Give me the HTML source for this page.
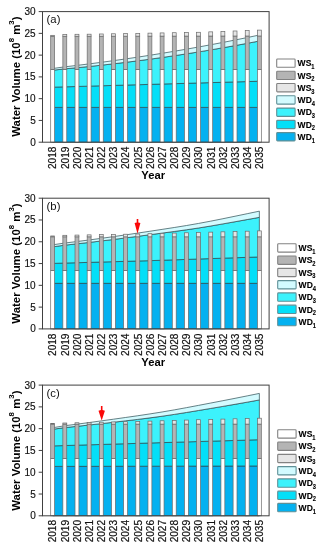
<!DOCTYPE html>
<html><head><meta charset="utf-8"><title>Water Volume</title>
<style>html,body{margin:0;padding:0;background:#fff}svg{display:block}</style></head>
<body>
<svg width="320" height="550" viewBox="0 0 320 550" font-family="'Liberation Sans', sans-serif">
<rect width="320" height="550" fill="#fff"/>
<polygon points="52.65,107.40 64.81,107.40 76.97,107.40 89.13,107.40 101.29,107.40 113.45,107.40 125.61,107.40 137.77,107.40 149.93,107.40 162.09,107.40 174.25,107.40 186.41,107.40 198.57,107.40 210.73,107.40 222.89,107.40 235.05,107.40 247.21,107.40 259.37,107.40 259.37,142.20 247.21,142.20 235.05,142.20 222.89,142.20 210.73,142.20 198.57,142.20 186.41,142.20 174.25,142.20 162.09,142.20 149.93,142.20 137.77,142.20 125.61,142.20 113.45,142.20 101.29,142.20 89.13,142.20 76.97,142.20 64.81,142.20 52.65,142.20" fill="#04b1f0" stroke="#2a4a50" stroke-width="0.7" stroke-linejoin="round"/>
<polygon points="52.65,87.18 64.81,86.83 76.97,86.48 89.13,86.13 101.29,85.77 113.45,85.42 125.61,85.07 137.77,84.72 149.93,84.37 162.09,84.02 174.25,83.67 186.41,83.32 198.57,82.97 210.73,82.62 222.89,82.27 235.05,81.92 247.21,81.57 259.37,81.22 259.37,107.40 247.21,107.40 235.05,107.40 222.89,107.40 210.73,107.40 198.57,107.40 186.41,107.40 174.25,107.40 162.09,107.40 149.93,107.40 137.77,107.40 125.61,107.40 113.45,107.40 101.29,107.40 89.13,107.40 76.97,107.40 64.81,107.40 52.65,107.40" fill="#04dff8" stroke="#2a4a50" stroke-width="0.7" stroke-linejoin="round"/>
<polygon points="52.65,70.25 64.81,68.84 76.97,67.71 89.13,66.49 101.29,65.19 113.45,63.81 125.61,62.35 137.77,60.81 149.93,59.19 162.09,57.49 174.25,55.71 186.41,53.85 198.57,51.91 210.73,49.89 222.89,47.78 235.05,45.60 247.21,43.33 259.37,40.99 259.37,81.22 247.21,81.57 235.05,81.92 222.89,82.27 210.73,82.62 198.57,82.97 186.41,83.32 174.25,83.67 162.09,84.02 149.93,84.37 137.77,84.72 125.61,85.07 113.45,85.42 101.29,85.77 89.13,86.13 76.97,86.48 64.81,86.83 52.65,87.18" fill="#3cf2fc" stroke="#2a4a50" stroke-width="0.7" stroke-linejoin="round"/>
<polygon points="52.65,68.54 64.81,66.84 76.97,65.40 89.13,63.90 101.29,62.32 113.45,60.66 125.61,58.93 137.77,57.13 149.93,55.25 162.09,53.30 174.25,51.27 186.41,49.17 198.57,47.00 210.73,44.75 222.89,42.43 235.05,40.03 247.21,37.56 259.37,35.01 259.37,40.99 247.21,43.33 235.05,45.60 222.89,47.78 210.73,49.89 198.57,51.91 186.41,53.85 174.25,55.71 162.09,57.49 149.93,59.19 137.77,60.81 125.61,62.35 113.45,63.81 101.29,65.19 89.13,66.49 76.97,67.71 64.81,68.84 52.65,70.25" fill="#d2fbff" stroke="#2a4a50" stroke-width="0.7" stroke-linejoin="round"/>
<rect x="50.70" y="69.52" width="3.9" height="72.68" fill="#ffffff" stroke="#6a6a6a" stroke-width="0.7"/>
<rect x="50.70" y="36.28" width="3.9" height="33.23" fill="#b4b4b4" stroke="#6a6a6a" stroke-width="0.7"/>
<rect x="50.70" y="35.33" width="3.9" height="0.96" fill="#e6e6e6" stroke="#6a6a6a" stroke-width="0.7"/>
<rect x="62.86" y="69.52" width="3.9" height="72.68" fill="#ffffff" stroke="#6a6a6a" stroke-width="0.7"/>
<rect x="62.86" y="36.26" width="3.9" height="33.25" fill="#b4b4b4" stroke="#6a6a6a" stroke-width="0.7"/>
<rect x="62.86" y="34.54" width="3.9" height="1.72" fill="#e6e6e6" stroke="#6a6a6a" stroke-width="0.7"/>
<rect x="75.02" y="69.52" width="3.9" height="72.68" fill="#ffffff" stroke="#6a6a6a" stroke-width="0.7"/>
<rect x="75.02" y="36.25" width="3.9" height="33.27" fill="#b4b4b4" stroke="#6a6a6a" stroke-width="0.7"/>
<rect x="75.02" y="34.28" width="3.9" height="1.97" fill="#e6e6e6" stroke="#6a6a6a" stroke-width="0.7"/>
<rect x="87.18" y="69.52" width="3.9" height="72.68" fill="#ffffff" stroke="#6a6a6a" stroke-width="0.7"/>
<rect x="87.18" y="36.23" width="3.9" height="33.29" fill="#b4b4b4" stroke="#6a6a6a" stroke-width="0.7"/>
<rect x="87.18" y="34.19" width="3.9" height="2.03" fill="#e6e6e6" stroke="#6a6a6a" stroke-width="0.7"/>
<rect x="99.34" y="69.52" width="3.9" height="72.68" fill="#ffffff" stroke="#6a6a6a" stroke-width="0.7"/>
<rect x="99.34" y="36.21" width="3.9" height="33.31" fill="#b4b4b4" stroke="#6a6a6a" stroke-width="0.7"/>
<rect x="99.34" y="33.98" width="3.9" height="2.23" fill="#e6e6e6" stroke="#6a6a6a" stroke-width="0.7"/>
<rect x="111.50" y="69.52" width="3.9" height="72.68" fill="#ffffff" stroke="#6a6a6a" stroke-width="0.7"/>
<rect x="111.50" y="36.19" width="3.9" height="33.32" fill="#b4b4b4" stroke="#6a6a6a" stroke-width="0.7"/>
<rect x="111.50" y="33.77" width="3.9" height="2.42" fill="#e6e6e6" stroke="#6a6a6a" stroke-width="0.7"/>
<rect x="123.66" y="69.52" width="3.9" height="72.68" fill="#ffffff" stroke="#6a6a6a" stroke-width="0.7"/>
<rect x="123.66" y="36.17" width="3.9" height="33.34" fill="#b4b4b4" stroke="#6a6a6a" stroke-width="0.7"/>
<rect x="123.66" y="33.56" width="3.9" height="2.62" fill="#e6e6e6" stroke="#6a6a6a" stroke-width="0.7"/>
<rect x="135.82" y="69.52" width="3.9" height="72.68" fill="#ffffff" stroke="#6a6a6a" stroke-width="0.7"/>
<rect x="135.82" y="36.16" width="3.9" height="33.36" fill="#b4b4b4" stroke="#6a6a6a" stroke-width="0.7"/>
<rect x="135.82" y="33.34" width="3.9" height="2.81" fill="#e6e6e6" stroke="#6a6a6a" stroke-width="0.7"/>
<rect x="147.98" y="69.52" width="3.9" height="72.68" fill="#ffffff" stroke="#6a6a6a" stroke-width="0.7"/>
<rect x="147.98" y="36.14" width="3.9" height="33.38" fill="#b4b4b4" stroke="#6a6a6a" stroke-width="0.7"/>
<rect x="147.98" y="33.13" width="3.9" height="3.01" fill="#e6e6e6" stroke="#6a6a6a" stroke-width="0.7"/>
<rect x="160.14" y="69.52" width="3.9" height="72.68" fill="#ffffff" stroke="#6a6a6a" stroke-width="0.7"/>
<rect x="160.14" y="36.12" width="3.9" height="33.40" fill="#b4b4b4" stroke="#6a6a6a" stroke-width="0.7"/>
<rect x="160.14" y="32.92" width="3.9" height="3.20" fill="#e6e6e6" stroke="#6a6a6a" stroke-width="0.7"/>
<rect x="172.30" y="69.52" width="3.9" height="72.68" fill="#ffffff" stroke="#6a6a6a" stroke-width="0.7"/>
<rect x="172.30" y="36.10" width="3.9" height="33.41" fill="#b4b4b4" stroke="#6a6a6a" stroke-width="0.7"/>
<rect x="172.30" y="32.71" width="3.9" height="3.40" fill="#e6e6e6" stroke="#6a6a6a" stroke-width="0.7"/>
<rect x="184.46" y="69.52" width="3.9" height="72.68" fill="#ffffff" stroke="#6a6a6a" stroke-width="0.7"/>
<rect x="184.46" y="36.08" width="3.9" height="33.43" fill="#b4b4b4" stroke="#6a6a6a" stroke-width="0.7"/>
<rect x="184.46" y="32.49" width="3.9" height="3.59" fill="#e6e6e6" stroke="#6a6a6a" stroke-width="0.7"/>
<rect x="196.62" y="69.52" width="3.9" height="72.68" fill="#ffffff" stroke="#6a6a6a" stroke-width="0.7"/>
<rect x="196.62" y="36.07" width="3.9" height="33.45" fill="#b4b4b4" stroke="#6a6a6a" stroke-width="0.7"/>
<rect x="196.62" y="32.28" width="3.9" height="3.79" fill="#e6e6e6" stroke="#6a6a6a" stroke-width="0.7"/>
<rect x="208.78" y="69.52" width="3.9" height="72.68" fill="#ffffff" stroke="#6a6a6a" stroke-width="0.7"/>
<rect x="208.78" y="36.05" width="3.9" height="33.47" fill="#b4b4b4" stroke="#6a6a6a" stroke-width="0.7"/>
<rect x="208.78" y="31.85" width="3.9" height="4.20" fill="#e6e6e6" stroke="#6a6a6a" stroke-width="0.7"/>
<rect x="220.94" y="69.52" width="3.9" height="72.68" fill="#ffffff" stroke="#6a6a6a" stroke-width="0.7"/>
<rect x="220.94" y="36.03" width="3.9" height="33.48" fill="#b4b4b4" stroke="#6a6a6a" stroke-width="0.7"/>
<rect x="220.94" y="31.41" width="3.9" height="4.62" fill="#e6e6e6" stroke="#6a6a6a" stroke-width="0.7"/>
<rect x="233.10" y="69.52" width="3.9" height="72.68" fill="#ffffff" stroke="#6a6a6a" stroke-width="0.7"/>
<rect x="233.10" y="36.01" width="3.9" height="33.50" fill="#b4b4b4" stroke="#6a6a6a" stroke-width="0.7"/>
<rect x="233.10" y="30.98" width="3.9" height="5.04" fill="#e6e6e6" stroke="#6a6a6a" stroke-width="0.7"/>
<rect x="245.26" y="69.52" width="3.9" height="72.68" fill="#ffffff" stroke="#6a6a6a" stroke-width="0.7"/>
<rect x="245.26" y="36.00" width="3.9" height="33.52" fill="#b4b4b4" stroke="#6a6a6a" stroke-width="0.7"/>
<rect x="245.26" y="30.54" width="3.9" height="5.46" fill="#e6e6e6" stroke="#6a6a6a" stroke-width="0.7"/>
<rect x="257.42" y="69.52" width="3.9" height="72.68" fill="#ffffff" stroke="#6a6a6a" stroke-width="0.7"/>
<rect x="257.42" y="35.98" width="3.9" height="33.54" fill="#b4b4b4" stroke="#6a6a6a" stroke-width="0.7"/>
<rect x="257.42" y="30.11" width="3.9" height="5.87" fill="#e6e6e6" stroke="#6a6a6a" stroke-width="0.7"/>
<rect x="42.5" y="11.6" width="226.60000000000002" height="130.60" fill="none" stroke="#404040" stroke-width="1"/>
<line x1="38.7" y1="142.20" x2="42.5" y2="142.20" stroke="#404040" stroke-width="1"/>
<text x="35.7" y="145.70" font-size="10" text-anchor="end" fill="#111" stroke="#111" stroke-width="0.15">0</text>
<line x1="38.7" y1="120.43" x2="42.5" y2="120.43" stroke="#404040" stroke-width="1"/>
<text x="35.7" y="123.93" font-size="10" text-anchor="end" fill="#111" stroke="#111" stroke-width="0.15">5</text>
<line x1="38.7" y1="98.67" x2="42.5" y2="98.67" stroke="#404040" stroke-width="1"/>
<text x="35.7" y="102.17" font-size="10" text-anchor="end" fill="#111" stroke="#111" stroke-width="0.15">10</text>
<line x1="38.7" y1="76.90" x2="42.5" y2="76.90" stroke="#404040" stroke-width="1"/>
<text x="35.7" y="80.40" font-size="10" text-anchor="end" fill="#111" stroke="#111" stroke-width="0.15">15</text>
<line x1="38.7" y1="55.13" x2="42.5" y2="55.13" stroke="#404040" stroke-width="1"/>
<text x="35.7" y="58.63" font-size="10" text-anchor="end" fill="#111" stroke="#111" stroke-width="0.15">20</text>
<line x1="38.7" y1="33.37" x2="42.5" y2="33.37" stroke="#404040" stroke-width="1"/>
<text x="35.7" y="36.87" font-size="10" text-anchor="end" fill="#111" stroke="#111" stroke-width="0.15">25</text>
<line x1="38.7" y1="11.60" x2="42.5" y2="11.60" stroke="#404040" stroke-width="1"/>
<text x="35.7" y="15.10" font-size="10" text-anchor="end" fill="#111" stroke="#111" stroke-width="0.15">30</text>
<text transform="translate(56.45,146.60) rotate(-90)" font-size="10.1" text-anchor="end" fill="#111" stroke="#111" stroke-width="0.2">2018</text>
<text transform="translate(68.61,146.60) rotate(-90)" font-size="10.1" text-anchor="end" fill="#111" stroke="#111" stroke-width="0.2">2019</text>
<text transform="translate(80.77,146.60) rotate(-90)" font-size="10.1" text-anchor="end" fill="#111" stroke="#111" stroke-width="0.2">2020</text>
<text transform="translate(92.93,146.60) rotate(-90)" font-size="10.1" text-anchor="end" fill="#111" stroke="#111" stroke-width="0.2">2021</text>
<text transform="translate(105.09,146.60) rotate(-90)" font-size="10.1" text-anchor="end" fill="#111" stroke="#111" stroke-width="0.2">2022</text>
<text transform="translate(117.25,146.60) rotate(-90)" font-size="10.1" text-anchor="end" fill="#111" stroke="#111" stroke-width="0.2">2023</text>
<text transform="translate(129.41,146.60) rotate(-90)" font-size="10.1" text-anchor="end" fill="#111" stroke="#111" stroke-width="0.2">2024</text>
<text transform="translate(141.57,146.60) rotate(-90)" font-size="10.1" text-anchor="end" fill="#111" stroke="#111" stroke-width="0.2">2025</text>
<text transform="translate(153.73,146.60) rotate(-90)" font-size="10.1" text-anchor="end" fill="#111" stroke="#111" stroke-width="0.2">2026</text>
<text transform="translate(165.89,146.60) rotate(-90)" font-size="10.1" text-anchor="end" fill="#111" stroke="#111" stroke-width="0.2">2027</text>
<text transform="translate(178.05,146.60) rotate(-90)" font-size="10.1" text-anchor="end" fill="#111" stroke="#111" stroke-width="0.2">2028</text>
<text transform="translate(190.21,146.60) rotate(-90)" font-size="10.1" text-anchor="end" fill="#111" stroke="#111" stroke-width="0.2">2029</text>
<text transform="translate(202.37,146.60) rotate(-90)" font-size="10.1" text-anchor="end" fill="#111" stroke="#111" stroke-width="0.2">2030</text>
<text transform="translate(214.53,146.60) rotate(-90)" font-size="10.1" text-anchor="end" fill="#111" stroke="#111" stroke-width="0.2">2031</text>
<text transform="translate(226.69,146.60) rotate(-90)" font-size="10.1" text-anchor="end" fill="#111" stroke="#111" stroke-width="0.2">2032</text>
<text transform="translate(238.85,146.60) rotate(-90)" font-size="10.1" text-anchor="end" fill="#111" stroke="#111" stroke-width="0.2">2033</text>
<text transform="translate(251.01,146.60) rotate(-90)" font-size="10.1" text-anchor="end" fill="#111" stroke="#111" stroke-width="0.2">2034</text>
<text transform="translate(263.17,146.60) rotate(-90)" font-size="10.1" text-anchor="end" fill="#111" stroke="#111" stroke-width="0.2">2035</text>
<text transform="translate(153.2,178.60) scale(0.97,1)" font-size="11.6" font-weight="bold" text-anchor="middle" fill="#000">Year</text>
<text transform="translate(19.8,76.60) rotate(-90) scale(0.983,1)" font-size="11.6" font-weight="bold" text-anchor="middle" fill="#000">Water Volume (10<tspan font-size="8" dy="-5.7">8</tspan><tspan dy="5.7"> m</tspan><tspan font-size="8" dy="-5.7">3</tspan><tspan dy="5.7">)</tspan></text>
<text x="46.6" y="23.10" font-size="11.3" fill="#111">(a)</text>
<rect x="276.70" y="59.00" width="18.4" height="8.3" rx="0.8" fill="#ffffff" stroke="#828282" stroke-width="1.1"/>
<text transform="translate(297.60,66.40) scale(0.87,1)" font-size="9.8" font-weight="bold" fill="#000" stroke="#000" stroke-width="0.12">WS<tspan font-size="6.6" dy="2.7">1</tspan></text>
<rect x="276.70" y="71.27" width="18.4" height="8.3" rx="0.8" fill="#b4b4b4" stroke="#828282" stroke-width="1.1"/>
<text transform="translate(297.60,78.67) scale(0.87,1)" font-size="9.8" font-weight="bold" fill="#000" stroke="#000" stroke-width="0.12">WS<tspan font-size="6.6" dy="2.7">2</tspan></text>
<rect x="276.70" y="83.54" width="18.4" height="8.3" rx="0.8" fill="#e6e6e6" stroke="#828282" stroke-width="1.1"/>
<text transform="translate(297.60,90.94) scale(0.87,1)" font-size="9.8" font-weight="bold" fill="#000" stroke="#000" stroke-width="0.12">WS<tspan font-size="6.6" dy="2.7">3</tspan></text>
<rect x="276.70" y="95.81" width="18.4" height="8.3" rx="0.8" fill="#d2fbff" stroke="#5f9097" stroke-width="1.1"/>
<text transform="translate(297.60,103.21) scale(0.87,1)" font-size="9.8" font-weight="bold" fill="#000" stroke="#000" stroke-width="0.12">WD<tspan font-size="6.6" dy="2.7">4</tspan></text>
<rect x="276.70" y="108.08" width="18.4" height="8.3" rx="0.8" fill="#3cf2fc" stroke="#5f9097" stroke-width="1.1"/>
<text transform="translate(297.60,115.48) scale(0.87,1)" font-size="9.8" font-weight="bold" fill="#000" stroke="#000" stroke-width="0.12">WD<tspan font-size="6.6" dy="2.7">3</tspan></text>
<rect x="276.70" y="120.35" width="18.4" height="8.3" rx="0.8" fill="#04dff8" stroke="#5f9097" stroke-width="1.1"/>
<text transform="translate(297.60,127.75) scale(0.87,1)" font-size="9.8" font-weight="bold" fill="#000" stroke="#000" stroke-width="0.12">WD<tspan font-size="6.6" dy="2.7">2</tspan></text>
<rect x="276.70" y="132.62" width="18.4" height="8.3" rx="0.8" fill="#04b1f0" stroke="#5f9097" stroke-width="1.1"/>
<text transform="translate(297.60,140.02) scale(0.87,1)" font-size="9.8" font-weight="bold" fill="#000" stroke="#000" stroke-width="0.12">WD<tspan font-size="6.6" dy="2.7">1</tspan></text>
<polygon points="52.65,283.33 64.81,283.33 76.97,283.33 89.13,283.33 101.29,283.33 113.45,283.33 125.61,283.33 137.77,283.33 149.93,283.33 162.09,283.33 174.25,283.33 186.41,283.33 198.57,283.33 210.73,283.33 222.89,283.33 235.05,283.33 247.21,283.33 259.37,283.33 259.37,328.90 247.21,328.90 235.05,328.90 222.89,328.90 210.73,328.90 198.57,328.90 186.41,328.90 174.25,328.90 162.09,328.90 149.93,328.90 137.77,328.90 125.61,328.90 113.45,328.90 101.29,328.90 89.13,328.90 76.97,328.90 64.81,328.90 52.65,328.90" fill="#04b1f0" stroke="#2a4a50" stroke-width="0.7" stroke-linejoin="round"/>
<polygon points="52.65,263.40 64.81,263.06 76.97,262.71 89.13,262.37 101.29,262.02 113.45,261.68 125.61,261.33 137.77,260.99 149.93,260.65 162.09,260.23 174.25,259.82 186.41,259.41 198.57,259.00 210.73,258.58 222.89,258.17 235.05,257.76 247.21,257.34 259.37,256.93 259.37,283.33 247.21,283.33 235.05,283.33 222.89,283.33 210.73,283.33 198.57,283.33 186.41,283.33 174.25,283.33 162.09,283.33 149.93,283.33 137.77,283.33 125.61,283.33 113.45,283.33 101.29,283.33 89.13,283.33 76.97,283.33 64.81,283.33 52.65,283.33" fill="#04dff8" stroke="#2a4a50" stroke-width="0.7" stroke-linejoin="round"/>
<polygon points="52.65,246.82 64.81,245.17 76.97,243.82 89.13,242.42 101.29,240.96 113.45,239.46 125.61,237.91 137.77,236.32 149.93,234.71 162.09,233.10 174.25,231.48 186.41,229.79 198.57,227.98 210.73,226.00 222.89,223.89 235.05,221.72 247.21,219.54 259.37,217.36 259.37,256.93 247.21,257.34 235.05,257.76 222.89,258.17 210.73,258.58 198.57,259.00 186.41,259.41 174.25,259.82 162.09,260.23 149.93,260.65 137.77,260.99 125.61,261.33 113.45,261.68 101.29,262.02 89.13,262.37 76.97,262.71 64.81,263.06 52.65,263.40" fill="#3cf2fc" stroke="#2a4a50" stroke-width="0.7" stroke-linejoin="round"/>
<polygon points="52.65,244.82 64.81,243.04 76.97,241.54 89.13,239.97 101.29,238.34 113.45,236.64 125.61,234.89 137.77,233.08 149.93,231.24 162.09,229.38 174.25,227.50 186.41,225.54 198.57,223.43 210.73,221.15 222.89,218.72 235.05,216.22 247.21,213.70 259.37,211.15 259.37,217.36 247.21,219.54 235.05,221.72 222.89,223.89 210.73,226.00 198.57,227.98 186.41,229.79 174.25,231.48 162.09,233.10 149.93,234.71 137.77,236.32 125.61,237.91 113.45,239.46 101.29,240.96 89.13,242.42 76.97,243.82 64.81,245.17 52.65,246.82" fill="#d2fbff" stroke="#2a4a50" stroke-width="0.7" stroke-linejoin="round"/>
<rect x="50.70" y="270.48" width="3.9" height="58.42" fill="#ffffff" stroke="#6a6a6a" stroke-width="0.7"/>
<rect x="50.70" y="236.83" width="3.9" height="33.65" fill="#b4b4b4" stroke="#6a6a6a" stroke-width="0.7"/>
<rect x="50.70" y="235.96" width="3.9" height="0.87" fill="#e6e6e6" stroke="#6a6a6a" stroke-width="0.7"/>
<rect x="62.86" y="270.48" width="3.9" height="58.42" fill="#ffffff" stroke="#6a6a6a" stroke-width="0.7"/>
<rect x="62.86" y="236.83" width="3.9" height="33.65" fill="#b4b4b4" stroke="#6a6a6a" stroke-width="0.7"/>
<rect x="62.86" y="235.30" width="3.9" height="1.53" fill="#e6e6e6" stroke="#6a6a6a" stroke-width="0.7"/>
<rect x="75.02" y="270.49" width="3.9" height="58.41" fill="#ffffff" stroke="#6a6a6a" stroke-width="0.7"/>
<rect x="75.02" y="236.83" width="3.9" height="33.66" fill="#b4b4b4" stroke="#6a6a6a" stroke-width="0.7"/>
<rect x="75.02" y="235.08" width="3.9" height="1.75" fill="#e6e6e6" stroke="#6a6a6a" stroke-width="0.7"/>
<rect x="87.18" y="270.49" width="3.9" height="58.41" fill="#ffffff" stroke="#6a6a6a" stroke-width="0.7"/>
<rect x="87.18" y="236.83" width="3.9" height="33.66" fill="#b4b4b4" stroke="#6a6a6a" stroke-width="0.7"/>
<rect x="87.18" y="234.86" width="3.9" height="1.97" fill="#e6e6e6" stroke="#6a6a6a" stroke-width="0.7"/>
<rect x="99.34" y="270.50" width="3.9" height="58.40" fill="#ffffff" stroke="#6a6a6a" stroke-width="0.7"/>
<rect x="99.34" y="236.83" width="3.9" height="33.67" fill="#b4b4b4" stroke="#6a6a6a" stroke-width="0.7"/>
<rect x="99.34" y="234.64" width="3.9" height="2.19" fill="#e6e6e6" stroke="#6a6a6a" stroke-width="0.7"/>
<rect x="111.50" y="270.50" width="3.9" height="58.40" fill="#ffffff" stroke="#6a6a6a" stroke-width="0.7"/>
<rect x="111.50" y="236.83" width="3.9" height="33.67" fill="#b4b4b4" stroke="#6a6a6a" stroke-width="0.7"/>
<rect x="111.50" y="234.43" width="3.9" height="2.40" fill="#e6e6e6" stroke="#6a6a6a" stroke-width="0.7"/>
<rect x="123.66" y="270.51" width="3.9" height="58.39" fill="#ffffff" stroke="#6a6a6a" stroke-width="0.7"/>
<rect x="123.66" y="236.83" width="3.9" height="33.68" fill="#b4b4b4" stroke="#6a6a6a" stroke-width="0.7"/>
<rect x="123.66" y="234.21" width="3.9" height="2.62" fill="#e6e6e6" stroke="#6a6a6a" stroke-width="0.7"/>
<rect x="135.82" y="270.51" width="3.9" height="58.39" fill="#ffffff" stroke="#6a6a6a" stroke-width="0.7"/>
<rect x="135.82" y="236.83" width="3.9" height="33.68" fill="#b4b4b4" stroke="#6a6a6a" stroke-width="0.7"/>
<rect x="135.82" y="233.99" width="3.9" height="2.84" fill="#e6e6e6" stroke="#6a6a6a" stroke-width="0.7"/>
<rect x="147.98" y="270.52" width="3.9" height="58.38" fill="#ffffff" stroke="#6a6a6a" stroke-width="0.7"/>
<rect x="147.98" y="236.83" width="3.9" height="33.69" fill="#b4b4b4" stroke="#6a6a6a" stroke-width="0.7"/>
<rect x="147.98" y="233.68" width="3.9" height="3.15" fill="#e6e6e6" stroke="#6a6a6a" stroke-width="0.7"/>
<rect x="160.14" y="270.53" width="3.9" height="58.37" fill="#ffffff" stroke="#6a6a6a" stroke-width="0.7"/>
<rect x="160.14" y="236.83" width="3.9" height="33.70" fill="#b4b4b4" stroke="#6a6a6a" stroke-width="0.7"/>
<rect x="160.14" y="233.38" width="3.9" height="3.45" fill="#e6e6e6" stroke="#6a6a6a" stroke-width="0.7"/>
<rect x="172.30" y="270.53" width="3.9" height="58.37" fill="#ffffff" stroke="#6a6a6a" stroke-width="0.7"/>
<rect x="172.30" y="236.83" width="3.9" height="33.70" fill="#b4b4b4" stroke="#6a6a6a" stroke-width="0.7"/>
<rect x="172.30" y="233.07" width="3.9" height="3.76" fill="#e6e6e6" stroke="#6a6a6a" stroke-width="0.7"/>
<rect x="184.46" y="270.54" width="3.9" height="58.36" fill="#ffffff" stroke="#6a6a6a" stroke-width="0.7"/>
<rect x="184.46" y="236.83" width="3.9" height="33.71" fill="#b4b4b4" stroke="#6a6a6a" stroke-width="0.7"/>
<rect x="184.46" y="232.77" width="3.9" height="4.06" fill="#e6e6e6" stroke="#6a6a6a" stroke-width="0.7"/>
<rect x="196.62" y="270.54" width="3.9" height="58.36" fill="#ffffff" stroke="#6a6a6a" stroke-width="0.7"/>
<rect x="196.62" y="236.83" width="3.9" height="33.71" fill="#b4b4b4" stroke="#6a6a6a" stroke-width="0.7"/>
<rect x="196.62" y="232.46" width="3.9" height="4.37" fill="#e6e6e6" stroke="#6a6a6a" stroke-width="0.7"/>
<rect x="208.78" y="270.55" width="3.9" height="58.35" fill="#ffffff" stroke="#6a6a6a" stroke-width="0.7"/>
<rect x="208.78" y="236.83" width="3.9" height="33.72" fill="#b4b4b4" stroke="#6a6a6a" stroke-width="0.7"/>
<rect x="208.78" y="232.15" width="3.9" height="4.68" fill="#e6e6e6" stroke="#6a6a6a" stroke-width="0.7"/>
<rect x="220.94" y="270.55" width="3.9" height="58.35" fill="#ffffff" stroke="#6a6a6a" stroke-width="0.7"/>
<rect x="220.94" y="236.83" width="3.9" height="33.72" fill="#b4b4b4" stroke="#6a6a6a" stroke-width="0.7"/>
<rect x="220.94" y="231.83" width="3.9" height="5.00" fill="#e6e6e6" stroke="#6a6a6a" stroke-width="0.7"/>
<rect x="233.10" y="270.56" width="3.9" height="58.34" fill="#ffffff" stroke="#6a6a6a" stroke-width="0.7"/>
<rect x="233.10" y="236.83" width="3.9" height="33.73" fill="#b4b4b4" stroke="#6a6a6a" stroke-width="0.7"/>
<rect x="233.10" y="231.52" width="3.9" height="5.31" fill="#e6e6e6" stroke="#6a6a6a" stroke-width="0.7"/>
<rect x="245.26" y="270.56" width="3.9" height="58.34" fill="#ffffff" stroke="#6a6a6a" stroke-width="0.7"/>
<rect x="245.26" y="236.83" width="3.9" height="33.73" fill="#b4b4b4" stroke="#6a6a6a" stroke-width="0.7"/>
<rect x="245.26" y="231.20" width="3.9" height="5.63" fill="#e6e6e6" stroke="#6a6a6a" stroke-width="0.7"/>
<rect x="257.42" y="270.57" width="3.9" height="58.33" fill="#ffffff" stroke="#6a6a6a" stroke-width="0.7"/>
<rect x="257.42" y="236.83" width="3.9" height="33.74" fill="#b4b4b4" stroke="#6a6a6a" stroke-width="0.7"/>
<rect x="257.42" y="230.89" width="3.9" height="5.94" fill="#e6e6e6" stroke="#6a6a6a" stroke-width="0.7"/>
<rect x="42.5" y="198.2" width="226.60000000000002" height="130.70" fill="none" stroke="#404040" stroke-width="1"/>
<line x1="38.7" y1="328.90" x2="42.5" y2="328.90" stroke="#404040" stroke-width="1"/>
<text x="35.7" y="332.40" font-size="10" text-anchor="end" fill="#111" stroke="#111" stroke-width="0.15">0</text>
<line x1="38.7" y1="307.12" x2="42.5" y2="307.12" stroke="#404040" stroke-width="1"/>
<text x="35.7" y="310.62" font-size="10" text-anchor="end" fill="#111" stroke="#111" stroke-width="0.15">5</text>
<line x1="38.7" y1="285.33" x2="42.5" y2="285.33" stroke="#404040" stroke-width="1"/>
<text x="35.7" y="288.83" font-size="10" text-anchor="end" fill="#111" stroke="#111" stroke-width="0.15">10</text>
<line x1="38.7" y1="263.55" x2="42.5" y2="263.55" stroke="#404040" stroke-width="1"/>
<text x="35.7" y="267.05" font-size="10" text-anchor="end" fill="#111" stroke="#111" stroke-width="0.15">15</text>
<line x1="38.7" y1="241.77" x2="42.5" y2="241.77" stroke="#404040" stroke-width="1"/>
<text x="35.7" y="245.27" font-size="10" text-anchor="end" fill="#111" stroke="#111" stroke-width="0.15">20</text>
<line x1="38.7" y1="219.98" x2="42.5" y2="219.98" stroke="#404040" stroke-width="1"/>
<text x="35.7" y="223.48" font-size="10" text-anchor="end" fill="#111" stroke="#111" stroke-width="0.15">25</text>
<line x1="38.7" y1="198.20" x2="42.5" y2="198.20" stroke="#404040" stroke-width="1"/>
<text x="35.7" y="201.70" font-size="10" text-anchor="end" fill="#111" stroke="#111" stroke-width="0.15">30</text>
<text transform="translate(56.45,333.50) rotate(-90)" font-size="10.1" text-anchor="end" fill="#111" stroke="#111" stroke-width="0.2">2018</text>
<text transform="translate(68.61,333.50) rotate(-90)" font-size="10.1" text-anchor="end" fill="#111" stroke="#111" stroke-width="0.2">2019</text>
<text transform="translate(80.77,333.50) rotate(-90)" font-size="10.1" text-anchor="end" fill="#111" stroke="#111" stroke-width="0.2">2020</text>
<text transform="translate(92.93,333.50) rotate(-90)" font-size="10.1" text-anchor="end" fill="#111" stroke="#111" stroke-width="0.2">2021</text>
<text transform="translate(105.09,333.50) rotate(-90)" font-size="10.1" text-anchor="end" fill="#111" stroke="#111" stroke-width="0.2">2022</text>
<text transform="translate(117.25,333.50) rotate(-90)" font-size="10.1" text-anchor="end" fill="#111" stroke="#111" stroke-width="0.2">2023</text>
<text transform="translate(129.41,333.50) rotate(-90)" font-size="10.1" text-anchor="end" fill="#111" stroke="#111" stroke-width="0.2">2024</text>
<text transform="translate(141.57,333.50) rotate(-90)" font-size="10.1" text-anchor="end" fill="#111" stroke="#111" stroke-width="0.2">2025</text>
<text transform="translate(153.73,333.50) rotate(-90)" font-size="10.1" text-anchor="end" fill="#111" stroke="#111" stroke-width="0.2">2026</text>
<text transform="translate(165.89,333.50) rotate(-90)" font-size="10.1" text-anchor="end" fill="#111" stroke="#111" stroke-width="0.2">2027</text>
<text transform="translate(178.05,333.50) rotate(-90)" font-size="10.1" text-anchor="end" fill="#111" stroke="#111" stroke-width="0.2">2028</text>
<text transform="translate(190.21,333.50) rotate(-90)" font-size="10.1" text-anchor="end" fill="#111" stroke="#111" stroke-width="0.2">2029</text>
<text transform="translate(202.37,333.50) rotate(-90)" font-size="10.1" text-anchor="end" fill="#111" stroke="#111" stroke-width="0.2">2030</text>
<text transform="translate(214.53,333.50) rotate(-90)" font-size="10.1" text-anchor="end" fill="#111" stroke="#111" stroke-width="0.2">2031</text>
<text transform="translate(226.69,333.50) rotate(-90)" font-size="10.1" text-anchor="end" fill="#111" stroke="#111" stroke-width="0.2">2032</text>
<text transform="translate(238.85,333.50) rotate(-90)" font-size="10.1" text-anchor="end" fill="#111" stroke="#111" stroke-width="0.2">2033</text>
<text transform="translate(251.01,333.50) rotate(-90)" font-size="10.1" text-anchor="end" fill="#111" stroke="#111" stroke-width="0.2">2034</text>
<text transform="translate(263.17,333.50) rotate(-90)" font-size="10.1" text-anchor="end" fill="#111" stroke="#111" stroke-width="0.2">2035</text>
<text transform="translate(153.2,366.00) scale(0.97,1)" font-size="11.6" font-weight="bold" text-anchor="middle" fill="#000">Year</text>
<text transform="translate(19.8,263.55) rotate(-90) scale(0.983,1)" font-size="11.6" font-weight="bold" text-anchor="middle" fill="#000">Water Volume (10<tspan font-size="8" dy="-5.7">8</tspan><tspan dy="5.7"> m</tspan><tspan font-size="8" dy="-5.7">3</tspan><tspan dy="5.7">)</tspan></text>
<text x="46.6" y="209.70" font-size="11.3" fill="#111">(b)</text>
<path d="M136.70,218.90 H138.30 V222.50 L140.40,223.10 L137.50,233.80 L134.60,223.10 L136.70,222.50 Z" fill="#fb0808"/>
<rect x="277.70" y="243.80" width="18.4" height="8.3" rx="0.8" fill="#ffffff" stroke="#828282" stroke-width="1.1"/>
<text transform="translate(298.60,251.20) scale(0.87,1)" font-size="9.8" font-weight="bold" fill="#000" stroke="#000" stroke-width="0.12">WS<tspan font-size="6.6" dy="2.7">1</tspan></text>
<rect x="277.70" y="256.07" width="18.4" height="8.3" rx="0.8" fill="#b4b4b4" stroke="#828282" stroke-width="1.1"/>
<text transform="translate(298.60,263.47) scale(0.87,1)" font-size="9.8" font-weight="bold" fill="#000" stroke="#000" stroke-width="0.12">WS<tspan font-size="6.6" dy="2.7">2</tspan></text>
<rect x="277.70" y="268.34" width="18.4" height="8.3" rx="0.8" fill="#e6e6e6" stroke="#828282" stroke-width="1.1"/>
<text transform="translate(298.60,275.74) scale(0.87,1)" font-size="9.8" font-weight="bold" fill="#000" stroke="#000" stroke-width="0.12">WS<tspan font-size="6.6" dy="2.7">3</tspan></text>
<rect x="277.70" y="280.61" width="18.4" height="8.3" rx="0.8" fill="#d2fbff" stroke="#5f9097" stroke-width="1.1"/>
<text transform="translate(298.60,288.01) scale(0.87,1)" font-size="9.8" font-weight="bold" fill="#000" stroke="#000" stroke-width="0.12">WD<tspan font-size="6.6" dy="2.7">4</tspan></text>
<rect x="277.70" y="292.88" width="18.4" height="8.3" rx="0.8" fill="#3cf2fc" stroke="#5f9097" stroke-width="1.1"/>
<text transform="translate(298.60,300.28) scale(0.87,1)" font-size="9.8" font-weight="bold" fill="#000" stroke="#000" stroke-width="0.12">WD<tspan font-size="6.6" dy="2.7">3</tspan></text>
<rect x="277.70" y="305.15" width="18.4" height="8.3" rx="0.8" fill="#04dff8" stroke="#5f9097" stroke-width="1.1"/>
<text transform="translate(298.60,312.55) scale(0.87,1)" font-size="9.8" font-weight="bold" fill="#000" stroke="#000" stroke-width="0.12">WD<tspan font-size="6.6" dy="2.7">2</tspan></text>
<rect x="277.70" y="317.42" width="18.4" height="8.3" rx="0.8" fill="#04b1f0" stroke="#5f9097" stroke-width="1.1"/>
<text transform="translate(298.60,324.82) scale(0.87,1)" font-size="9.8" font-weight="bold" fill="#000" stroke="#000" stroke-width="0.12">WD<tspan font-size="6.6" dy="2.7">1</tspan></text>
<polygon points="52.65,466.41 64.81,466.39 76.97,466.36 89.13,466.34 101.29,466.31 113.45,466.28 125.61,466.26 137.77,466.23 149.93,466.21 162.09,466.18 174.25,466.16 186.41,466.13 198.57,466.10 210.73,466.08 222.89,466.05 235.05,466.03 247.21,466.00 259.37,465.98 259.37,515.80 247.21,515.80 235.05,515.80 222.89,515.80 210.73,515.80 198.57,515.80 186.41,515.80 174.25,515.80 162.09,515.80 149.93,515.80 137.77,515.80 125.61,515.80 113.45,515.80 101.29,515.80 89.13,515.80 76.97,515.80 64.81,515.80 52.65,515.80" fill="#04b1f0" stroke="#2a4a50" stroke-width="0.7" stroke-linejoin="round"/>
<polygon points="52.65,445.90 64.81,445.54 76.97,445.18 89.13,444.81 101.29,444.45 113.45,444.08 125.61,443.72 137.77,443.35 149.93,442.99 162.09,442.62 174.25,442.26 186.41,441.90 198.57,441.53 210.73,441.17 222.89,440.80 235.05,440.44 247.21,440.07 259.37,439.71 259.37,465.98 247.21,466.00 235.05,466.03 222.89,466.05 210.73,466.08 198.57,466.10 186.41,466.13 174.25,466.16 162.09,466.18 149.93,466.21 137.77,466.23 125.61,466.26 113.45,466.28 101.29,466.31 89.13,466.34 76.97,466.36 64.81,466.39 52.65,466.41" fill="#04dff8" stroke="#2a4a50" stroke-width="0.7" stroke-linejoin="round"/>
<polygon points="52.65,429.30 64.81,427.58 76.97,426.33 89.13,425.01 101.29,423.65 113.45,422.25 125.61,420.83 137.77,419.38 149.93,417.86 162.09,416.21 174.25,414.40 186.41,412.47 198.57,410.47 210.73,408.43 222.89,406.38 235.05,404.29 247.21,402.15 259.37,399.95 259.37,439.71 247.21,440.07 235.05,440.44 222.89,440.80 210.73,441.17 198.57,441.53 186.41,441.90 174.25,442.26 162.09,442.62 149.93,442.99 137.77,443.35 125.61,443.72 113.45,444.08 101.29,444.45 89.13,444.81 76.97,445.18 64.81,445.54 52.65,445.90" fill="#3cf2fc" stroke="#2a4a50" stroke-width="0.7" stroke-linejoin="round"/>
<polygon points="52.65,427.74 64.81,425.72 76.97,424.17 89.13,422.55 101.29,420.89 113.45,419.20 125.61,417.48 137.77,415.74 149.93,413.92 162.09,411.98 174.25,409.88 186.41,407.66 198.57,405.36 210.73,403.04 222.89,400.70 235.05,398.32 247.21,395.89 259.37,393.41 259.37,399.95 247.21,402.15 235.05,404.29 222.89,406.38 210.73,408.43 198.57,410.47 186.41,412.47 174.25,414.40 162.09,416.21 149.93,417.86 137.77,419.38 125.61,420.83 113.45,422.25 101.29,423.65 89.13,425.01 76.97,426.33 64.81,427.58 52.65,429.30" fill="#d2fbff" stroke="#2a4a50" stroke-width="0.7" stroke-linejoin="round"/>
<rect x="50.70" y="458.56" width="3.9" height="57.24" fill="#ffffff" stroke="#6a6a6a" stroke-width="0.7"/>
<rect x="50.70" y="424.09" width="3.9" height="34.47" fill="#b4b4b4" stroke="#6a6a6a" stroke-width="0.7"/>
<rect x="50.70" y="423.43" width="3.9" height="0.65" fill="#e6e6e6" stroke="#6a6a6a" stroke-width="0.7"/>
<rect x="62.86" y="458.55" width="3.9" height="57.25" fill="#ffffff" stroke="#6a6a6a" stroke-width="0.7"/>
<rect x="62.86" y="424.09" width="3.9" height="34.47" fill="#b4b4b4" stroke="#6a6a6a" stroke-width="0.7"/>
<rect x="62.86" y="423.00" width="3.9" height="1.09" fill="#e6e6e6" stroke="#6a6a6a" stroke-width="0.7"/>
<rect x="75.02" y="458.55" width="3.9" height="57.25" fill="#ffffff" stroke="#6a6a6a" stroke-width="0.7"/>
<rect x="75.02" y="424.09" width="3.9" height="34.46" fill="#b4b4b4" stroke="#6a6a6a" stroke-width="0.7"/>
<rect x="75.02" y="422.74" width="3.9" height="1.35" fill="#e6e6e6" stroke="#6a6a6a" stroke-width="0.7"/>
<rect x="87.18" y="458.54" width="3.9" height="57.26" fill="#ffffff" stroke="#6a6a6a" stroke-width="0.7"/>
<rect x="87.18" y="424.09" width="3.9" height="34.45" fill="#b4b4b4" stroke="#6a6a6a" stroke-width="0.7"/>
<rect x="87.18" y="422.49" width="3.9" height="1.60" fill="#e6e6e6" stroke="#6a6a6a" stroke-width="0.7"/>
<rect x="99.34" y="458.54" width="3.9" height="57.26" fill="#ffffff" stroke="#6a6a6a" stroke-width="0.7"/>
<rect x="99.34" y="424.09" width="3.9" height="34.45" fill="#b4b4b4" stroke="#6a6a6a" stroke-width="0.7"/>
<rect x="99.34" y="422.23" width="3.9" height="1.85" fill="#e6e6e6" stroke="#6a6a6a" stroke-width="0.7"/>
<rect x="111.50" y="458.53" width="3.9" height="57.27" fill="#ffffff" stroke="#6a6a6a" stroke-width="0.7"/>
<rect x="111.50" y="424.09" width="3.9" height="34.44" fill="#b4b4b4" stroke="#6a6a6a" stroke-width="0.7"/>
<rect x="111.50" y="421.98" width="3.9" height="2.11" fill="#e6e6e6" stroke="#6a6a6a" stroke-width="0.7"/>
<rect x="123.66" y="458.53" width="3.9" height="57.27" fill="#ffffff" stroke="#6a6a6a" stroke-width="0.7"/>
<rect x="123.66" y="424.09" width="3.9" height="34.44" fill="#b4b4b4" stroke="#6a6a6a" stroke-width="0.7"/>
<rect x="123.66" y="421.72" width="3.9" height="2.36" fill="#e6e6e6" stroke="#6a6a6a" stroke-width="0.7"/>
<rect x="135.82" y="458.52" width="3.9" height="57.28" fill="#ffffff" stroke="#6a6a6a" stroke-width="0.7"/>
<rect x="135.82" y="424.09" width="3.9" height="34.43" fill="#b4b4b4" stroke="#6a6a6a" stroke-width="0.7"/>
<rect x="135.82" y="421.47" width="3.9" height="2.62" fill="#e6e6e6" stroke="#6a6a6a" stroke-width="0.7"/>
<rect x="147.98" y="458.52" width="3.9" height="57.28" fill="#ffffff" stroke="#6a6a6a" stroke-width="0.7"/>
<rect x="147.98" y="424.09" width="3.9" height="34.43" fill="#b4b4b4" stroke="#6a6a6a" stroke-width="0.7"/>
<rect x="147.98" y="421.12" width="3.9" height="2.97" fill="#e6e6e6" stroke="#6a6a6a" stroke-width="0.7"/>
<rect x="160.14" y="458.51" width="3.9" height="57.29" fill="#ffffff" stroke="#6a6a6a" stroke-width="0.7"/>
<rect x="160.14" y="424.09" width="3.9" height="34.42" fill="#b4b4b4" stroke="#6a6a6a" stroke-width="0.7"/>
<rect x="160.14" y="420.77" width="3.9" height="3.32" fill="#e6e6e6" stroke="#6a6a6a" stroke-width="0.7"/>
<rect x="172.30" y="458.51" width="3.9" height="57.29" fill="#ffffff" stroke="#6a6a6a" stroke-width="0.7"/>
<rect x="172.30" y="424.09" width="3.9" height="34.42" fill="#b4b4b4" stroke="#6a6a6a" stroke-width="0.7"/>
<rect x="172.30" y="420.42" width="3.9" height="3.67" fill="#e6e6e6" stroke="#6a6a6a" stroke-width="0.7"/>
<rect x="184.46" y="458.50" width="3.9" height="57.30" fill="#ffffff" stroke="#6a6a6a" stroke-width="0.7"/>
<rect x="184.46" y="424.09" width="3.9" height="34.41" fill="#b4b4b4" stroke="#6a6a6a" stroke-width="0.7"/>
<rect x="184.46" y="420.07" width="3.9" height="4.01" fill="#e6e6e6" stroke="#6a6a6a" stroke-width="0.7"/>
<rect x="196.62" y="458.50" width="3.9" height="57.30" fill="#ffffff" stroke="#6a6a6a" stroke-width="0.7"/>
<rect x="196.62" y="424.09" width="3.9" height="34.41" fill="#b4b4b4" stroke="#6a6a6a" stroke-width="0.7"/>
<rect x="196.62" y="419.72" width="3.9" height="4.36" fill="#e6e6e6" stroke="#6a6a6a" stroke-width="0.7"/>
<rect x="208.78" y="458.49" width="3.9" height="57.31" fill="#ffffff" stroke="#6a6a6a" stroke-width="0.7"/>
<rect x="208.78" y="424.09" width="3.9" height="34.40" fill="#b4b4b4" stroke="#6a6a6a" stroke-width="0.7"/>
<rect x="208.78" y="419.42" width="3.9" height="4.67" fill="#e6e6e6" stroke="#6a6a6a" stroke-width="0.7"/>
<rect x="220.94" y="458.49" width="3.9" height="57.31" fill="#ffffff" stroke="#6a6a6a" stroke-width="0.7"/>
<rect x="220.94" y="424.09" width="3.9" height="34.40" fill="#b4b4b4" stroke="#6a6a6a" stroke-width="0.7"/>
<rect x="220.94" y="419.11" width="3.9" height="4.97" fill="#e6e6e6" stroke="#6a6a6a" stroke-width="0.7"/>
<rect x="233.10" y="458.48" width="3.9" height="57.32" fill="#ffffff" stroke="#6a6a6a" stroke-width="0.7"/>
<rect x="233.10" y="424.09" width="3.9" height="34.39" fill="#b4b4b4" stroke="#6a6a6a" stroke-width="0.7"/>
<rect x="233.10" y="418.81" width="3.9" height="5.28" fill="#e6e6e6" stroke="#6a6a6a" stroke-width="0.7"/>
<rect x="245.26" y="458.48" width="3.9" height="57.32" fill="#ffffff" stroke="#6a6a6a" stroke-width="0.7"/>
<rect x="245.26" y="424.09" width="3.9" height="34.39" fill="#b4b4b4" stroke="#6a6a6a" stroke-width="0.7"/>
<rect x="245.26" y="418.50" width="3.9" height="5.59" fill="#e6e6e6" stroke="#6a6a6a" stroke-width="0.7"/>
<rect x="257.42" y="458.47" width="3.9" height="57.33" fill="#ffffff" stroke="#6a6a6a" stroke-width="0.7"/>
<rect x="257.42" y="424.09" width="3.9" height="34.38" fill="#b4b4b4" stroke="#6a6a6a" stroke-width="0.7"/>
<rect x="257.42" y="418.20" width="3.9" height="5.89" fill="#e6e6e6" stroke="#6a6a6a" stroke-width="0.7"/>
<rect x="42.5" y="385.1" width="226.60000000000002" height="130.70" fill="none" stroke="#404040" stroke-width="1"/>
<line x1="38.7" y1="515.80" x2="42.5" y2="515.80" stroke="#404040" stroke-width="1"/>
<text x="35.7" y="519.30" font-size="10" text-anchor="end" fill="#111" stroke="#111" stroke-width="0.15">0</text>
<line x1="38.7" y1="494.02" x2="42.5" y2="494.02" stroke="#404040" stroke-width="1"/>
<text x="35.7" y="497.52" font-size="10" text-anchor="end" fill="#111" stroke="#111" stroke-width="0.15">5</text>
<line x1="38.7" y1="472.23" x2="42.5" y2="472.23" stroke="#404040" stroke-width="1"/>
<text x="35.7" y="475.73" font-size="10" text-anchor="end" fill="#111" stroke="#111" stroke-width="0.15">10</text>
<line x1="38.7" y1="450.45" x2="42.5" y2="450.45" stroke="#404040" stroke-width="1"/>
<text x="35.7" y="453.95" font-size="10" text-anchor="end" fill="#111" stroke="#111" stroke-width="0.15">15</text>
<line x1="38.7" y1="428.67" x2="42.5" y2="428.67" stroke="#404040" stroke-width="1"/>
<text x="35.7" y="432.17" font-size="10" text-anchor="end" fill="#111" stroke="#111" stroke-width="0.15">20</text>
<line x1="38.7" y1="406.88" x2="42.5" y2="406.88" stroke="#404040" stroke-width="1"/>
<text x="35.7" y="410.38" font-size="10" text-anchor="end" fill="#111" stroke="#111" stroke-width="0.15">25</text>
<line x1="38.7" y1="385.10" x2="42.5" y2="385.10" stroke="#404040" stroke-width="1"/>
<text x="35.7" y="388.60" font-size="10" text-anchor="end" fill="#111" stroke="#111" stroke-width="0.15">30</text>
<text transform="translate(56.45,519.90) rotate(-90)" font-size="10.1" text-anchor="end" fill="#111" stroke="#111" stroke-width="0.2">2018</text>
<text transform="translate(68.61,519.90) rotate(-90)" font-size="10.1" text-anchor="end" fill="#111" stroke="#111" stroke-width="0.2">2019</text>
<text transform="translate(80.77,519.90) rotate(-90)" font-size="10.1" text-anchor="end" fill="#111" stroke="#111" stroke-width="0.2">2020</text>
<text transform="translate(92.93,519.90) rotate(-90)" font-size="10.1" text-anchor="end" fill="#111" stroke="#111" stroke-width="0.2">2021</text>
<text transform="translate(105.09,519.90) rotate(-90)" font-size="10.1" text-anchor="end" fill="#111" stroke="#111" stroke-width="0.2">2022</text>
<text transform="translate(117.25,519.90) rotate(-90)" font-size="10.1" text-anchor="end" fill="#111" stroke="#111" stroke-width="0.2">2023</text>
<text transform="translate(129.41,519.90) rotate(-90)" font-size="10.1" text-anchor="end" fill="#111" stroke="#111" stroke-width="0.2">2024</text>
<text transform="translate(141.57,519.90) rotate(-90)" font-size="10.1" text-anchor="end" fill="#111" stroke="#111" stroke-width="0.2">2025</text>
<text transform="translate(153.73,519.90) rotate(-90)" font-size="10.1" text-anchor="end" fill="#111" stroke="#111" stroke-width="0.2">2026</text>
<text transform="translate(165.89,519.90) rotate(-90)" font-size="10.1" text-anchor="end" fill="#111" stroke="#111" stroke-width="0.2">2027</text>
<text transform="translate(178.05,519.90) rotate(-90)" font-size="10.1" text-anchor="end" fill="#111" stroke="#111" stroke-width="0.2">2028</text>
<text transform="translate(190.21,519.90) rotate(-90)" font-size="10.1" text-anchor="end" fill="#111" stroke="#111" stroke-width="0.2">2029</text>
<text transform="translate(202.37,519.90) rotate(-90)" font-size="10.1" text-anchor="end" fill="#111" stroke="#111" stroke-width="0.2">2030</text>
<text transform="translate(214.53,519.90) rotate(-90)" font-size="10.1" text-anchor="end" fill="#111" stroke="#111" stroke-width="0.2">2031</text>
<text transform="translate(226.69,519.90) rotate(-90)" font-size="10.1" text-anchor="end" fill="#111" stroke="#111" stroke-width="0.2">2032</text>
<text transform="translate(238.85,519.90) rotate(-90)" font-size="10.1" text-anchor="end" fill="#111" stroke="#111" stroke-width="0.2">2033</text>
<text transform="translate(251.01,519.90) rotate(-90)" font-size="10.1" text-anchor="end" fill="#111" stroke="#111" stroke-width="0.2">2034</text>
<text transform="translate(263.17,519.90) rotate(-90)" font-size="10.1" text-anchor="end" fill="#111" stroke="#111" stroke-width="0.2">2035</text>
<text transform="translate(19.8,450.65) rotate(-90) scale(0.983,1)" font-size="11.6" font-weight="bold" text-anchor="middle" fill="#000">Water Volume (10<tspan font-size="8" dy="-5.7">8</tspan><tspan dy="5.7"> m</tspan><tspan font-size="8" dy="-5.7">3</tspan><tspan dy="5.7">)</tspan></text>
<text x="46.6" y="396.60" font-size="11.3" fill="#111">(c)</text>
<path d="M100.90,406.00 H102.50 V410.10 L104.90,410.70 L101.70,420.60 L98.50,410.70 L100.90,410.10 Z" fill="#fb0808"/>
<rect x="277.70" y="429.80" width="18.4" height="8.3" rx="0.8" fill="#ffffff" stroke="#828282" stroke-width="1.1"/>
<text transform="translate(298.60,437.20) scale(0.87,1)" font-size="9.8" font-weight="bold" fill="#000" stroke="#000" stroke-width="0.12">WS<tspan font-size="6.6" dy="2.7">1</tspan></text>
<rect x="277.70" y="442.07" width="18.4" height="8.3" rx="0.8" fill="#b4b4b4" stroke="#828282" stroke-width="1.1"/>
<text transform="translate(298.60,449.47) scale(0.87,1)" font-size="9.8" font-weight="bold" fill="#000" stroke="#000" stroke-width="0.12">WS<tspan font-size="6.6" dy="2.7">2</tspan></text>
<rect x="277.70" y="454.34" width="18.4" height="8.3" rx="0.8" fill="#e6e6e6" stroke="#828282" stroke-width="1.1"/>
<text transform="translate(298.60,461.74) scale(0.87,1)" font-size="9.8" font-weight="bold" fill="#000" stroke="#000" stroke-width="0.12">WS<tspan font-size="6.6" dy="2.7">3</tspan></text>
<rect x="277.70" y="466.61" width="18.4" height="8.3" rx="0.8" fill="#d2fbff" stroke="#5f9097" stroke-width="1.1"/>
<text transform="translate(298.60,474.01) scale(0.87,1)" font-size="9.8" font-weight="bold" fill="#000" stroke="#000" stroke-width="0.12">WD<tspan font-size="6.6" dy="2.7">4</tspan></text>
<rect x="277.70" y="478.88" width="18.4" height="8.3" rx="0.8" fill="#3cf2fc" stroke="#5f9097" stroke-width="1.1"/>
<text transform="translate(298.60,486.28) scale(0.87,1)" font-size="9.8" font-weight="bold" fill="#000" stroke="#000" stroke-width="0.12">WD<tspan font-size="6.6" dy="2.7">3</tspan></text>
<rect x="277.70" y="491.15" width="18.4" height="8.3" rx="0.8" fill="#04dff8" stroke="#5f9097" stroke-width="1.1"/>
<text transform="translate(298.60,498.55) scale(0.87,1)" font-size="9.8" font-weight="bold" fill="#000" stroke="#000" stroke-width="0.12">WD<tspan font-size="6.6" dy="2.7">2</tspan></text>
<rect x="277.70" y="503.42" width="18.4" height="8.3" rx="0.8" fill="#04b1f0" stroke="#5f9097" stroke-width="1.1"/>
<text transform="translate(298.60,510.82) scale(0.87,1)" font-size="9.8" font-weight="bold" fill="#000" stroke="#000" stroke-width="0.12">WD<tspan font-size="6.6" dy="2.7">1</tspan></text>
</svg>
</body></html>
